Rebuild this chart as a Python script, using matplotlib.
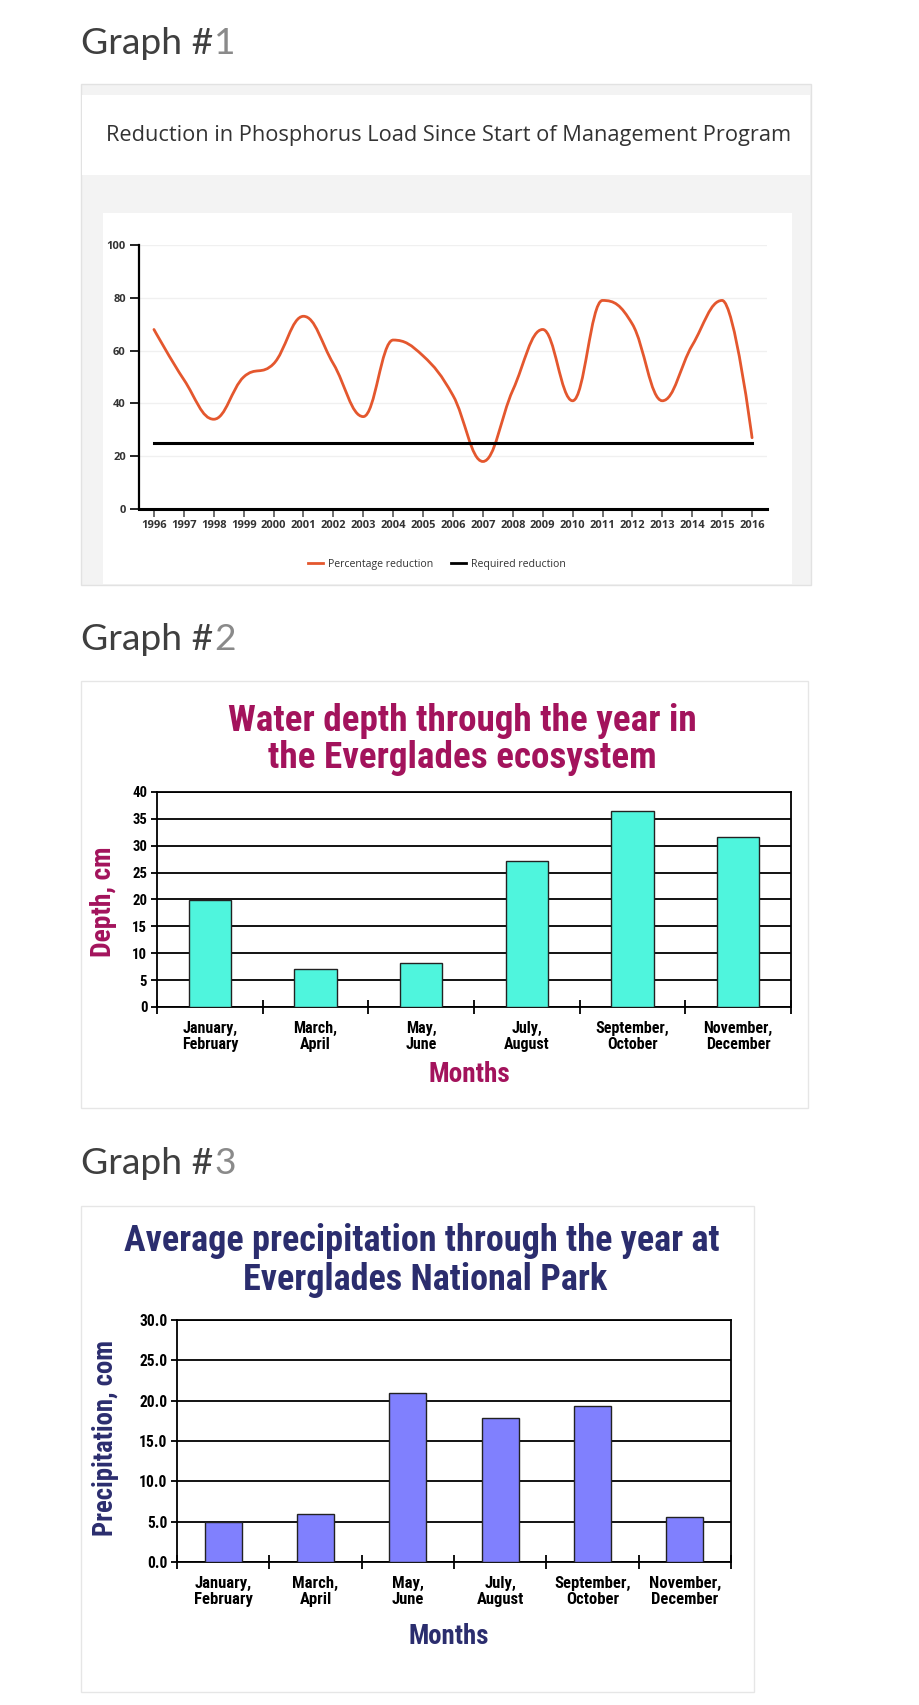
import matplotlib
matplotlib.use('Agg')
import matplotlib.pyplot as plt
from matplotlib import font_manager
from matplotlib.patches import Rectangle, PathPatch
from matplotlib.path import Path
from matplotlib.lines import Line2D
import numpy as np

# ---- data ----
years = list(range(1996, 2017))
pct_reduction = [68, 49, 34, 50, 55, 73, 55, 35, 64, 58, 43, 18, 45, 68, 41, 79, 70, 41, 62, 79, 27]
required_reduction = 25

month_labels = ['January,\nFebruary', 'March,\nApril', 'May,\nJune',
                'July,\nAugust', 'September,\nOctober', 'November,\nDecember']
depth_cm = [19.9, 7.0, 8.1, 27.2, 36.4, 31.7]
precip_cm = [5.0, 5.9, 21.0, 17.8, 19.3, 5.6]

ORANGE = '#e4572e'
MAROON = '#a3135c'
NAVY = '#2b2d6e'
AQUA = '#4ff5dd'
PERI = '#8080fe'

names = {f.name for f in font_manager.fontManager.ttflist}
NARROW = 'DejaVu Sans'
for cand in ['Liberation Sans Narrow', 'Roboto Condensed', 'Open Sans Condensed', 'DejaVu Sans Condensed']:
    if cand in names:
        NARROW = cand
        break
HEAD = 'Lato' if 'Lato' in names else 'DejaVu Sans'
OPEN = 'Open Sans' if 'Open Sans' in names else 'DejaVu Sans'

W, H = 920, 1705
fig = plt.figure(figsize=(W / 100, H / 100), dpi=100)
fig.patch.set_facecolor('white')
renderer = fig.canvas.get_renderer()


def frect(x0, y0, x1, y1):
    return [x0 / W, 1 - y1 / H, (x1 - x0) / W, (y1 - y0) / H]


def box(x0, y0, x1, y1, face, edge='none'):
    fig.add_artist(Rectangle((x0 / W, 1 - y1 / H), (x1 - x0) / W, (y1 - y0) / H,
                             transform=fig.transFigure, facecolor=face,
                             edgecolor=edge, lw=1, zorder=-5))


def fit_size(s, width=None, height=None, **kw):
    t = fig.text(0, 0, s, fontsize=20, **kw)
    bb = t.get_window_extent(renderer)
    t.remove()
    return 20 * (width / bb.width if width else height / bb.height)


def put(x, y, s, width=None, height=None, size=None, **kw):
    if size is None:
        size = fit_size(s, width, height, **kw)
    return fig.text(x / W, 1 - y / H, s, fontsize=size, **kw)


def header(y, num):
    fs = fit_size('Graph #' + num, width=154, family=HEAD)
    t = put(81, y, 'Graph #', size=fs, family=HEAD, color='#3f3f3f', va='center')
    w = t.get_window_extent(renderer).width
    put(81 + w + 1, y, num, size=fs, family=HEAD, color='#8a8a8a', va='center')


def spline_path(xs, ys, smoothing=1.5):
    n = len(xs)
    left = [None] * n
    right = [None] * n
    for i in range(n):
        x, y = xs[i], ys[i]
        if i == 0 or i == n - 1:
            left[i] = right[i] = (x, y)
            continue
        px, py = xs[i - 1], ys[i - 1]
        nx, ny = xs[i + 1], ys[i + 1]
        d = smoothing + 1
        lx, ly = (smoothing * x + px) / d, (smoothing * y + py) / d
        rx, ry = (smoothing * x + nx) / d, (smoothing * y + ny) / d
        corr = ((ry - ly) * (rx - x)) / (rx - lx) + y - ry
        ly += corr
        ry += corr
        if ly > py and ly > y:
            ly = max(py, y); ry = 2 * y - ly
        elif ly < py and ly < y:
            ly = min(py, y); ry = 2 * y - ly
        if ry > ny and ry > y:
            ry = max(ny, y); ly = 2 * y - ry
        elif ry < ny and ry < y:
            ry = min(ny, y); ly = 2 * y - ry
        left[i] = (lx, ly)
        right[i] = (rx, ry)
    verts = [(xs[0], ys[0])]
    codes = [Path.MOVETO]
    for i in range(1, n):
        verts += [right[i - 1], left[i], (xs[i], ys[i])]
        codes += [Path.CURVE4] * 3
    return Path(verts, codes)


# ================= Graph 1 =================
header(43, '1')
box(81, 84, 811, 585, '#f3f3f3', '#e2e2e2')
box(82, 95, 810, 175, 'white')
box(103, 213, 792, 584, 'white')
put(449, 136, 'Reduction in Phosphorus Load Since Start of Management Program',
    width=681, family=OPEN, color='#333333', ha='center', va='center')

ax1 = fig.add_axes(frect(139, 245, 767, 509))
ax1.set_facecolor('none')
ax1.add_patch(PathPatch(spline_path(years, pct_reduction), fill=False,
                        edgecolor=ORANGE, lw=2, capstyle='round', zorder=3))
ax1.plot([years[0], years[-1]], [required_reduction, required_reduction],
         color='black', lw=2.2, zorder=3)
ax1.set_xlim(years[0] - 0.5, years[-1] + 0.5)
ax1.set_ylim(0, 100)
ax1.set_yticks([0, 20, 40, 60, 80, 100])
ax1.set_xticks(years)
ax1.grid(axis='y', color='#f0f0f0', lw=1)
ax1.set_axisbelow(True)
for s in ['top', 'right']:
    ax1.spines[s].set_visible(False)
ax1.spines['left'].set_linewidth(1.6)
ax1.spines['bottom'].set_linewidth(2.2)
fs1 = fit_size('1996', width=25.5, family=OPEN, fontweight='bold')
ax1.tick_params(axis='y', length=6.5, width=1.2, pad=3, labelsize=fs1, labelcolor='#333333')
ax1.tick_params(axis='x', length=6, width=1.2, color='#555555', pad=2,
                labelsize=fs1, labelcolor='#333333')
for lab in ax1.get_xticklabels() + ax1.get_yticklabels():
    lab.set_family(OPEN)
    lab.set_fontweight('bold')

handles = [Line2D([], [], color=ORANGE, lw=2), Line2D([], [], color='black', lw=2)]
ax1.legend(handles, ['Percentage reduction', 'Required reduction'], ncol=2,
           loc='center', bbox_to_anchor=(437 / W, 1 - 564 / H),
           bbox_transform=fig.transFigure, frameon=False,
           prop={'family': OPEN, 'size': 7.6}, handlelength=1.4,
           handletextpad=0.5, columnspacing=1.7, labelcolor='#333333')


# ================= bar panels =================
def bar_panel(ax, values, ymax, step, color, fmt, xsize, ysize):
    x = np.arange(len(values))
    ax.bar(x, values, width=0.4, color=color, edgecolor='#222222', linewidth=1, zorder=3)
    ax.set_xlim(-0.5, len(values) - 0.5)
    ax.set_ylim(0, ymax)
    ax.set_yticks(np.arange(0, ymax + step / 2, step))
    ax.set_yticklabels([fmt.format(v) for v in np.arange(0, ymax + step / 2, step)])
    ax.grid(axis='y', color='black', lw=1.3)
    ax.set_axisbelow(True)
    ax.set_xticks(x)
    ax.set_xticklabels(month_labels)
    ax.set_xticks(np.arange(-0.5, len(values)), minor=True)
    ax.tick_params(axis='x', which='major', length=0, pad=10, labelsize=xsize)
    ax.tick_params(axis='x', which='minor', direction='inout', length=10, width=1.3)
    ax.tick_params(axis='y', direction='out', length=4, width=1.3, pad=3, labelsize=ysize)
    for s in ax.spines.values():
        s.set_linewidth(1.3)
        s.set_color('black')
    for lab in ax.get_xticklabels() + ax.get_yticklabels():
        lab.set_family(NARROW)
        lab.set_fontweight('bold')
        lab.set_linespacing(1.1)


# ================= Graph 2 =================
header(639, '2')
box(81, 681, 808, 1108, 'white', '#e6e6e6')
tfs2 = fit_size('Water depth through the year in', width=467, family=NARROW, fontweight='bold')
put(462, 721, 'Water depth through the year in', size=tfs2, family=NARROW,
    fontweight='bold', color=MAROON, ha='center', va='center')
put(462, 758, 'the Everglades ecosystem', size=tfs2, family=NARROW,
    fontweight='bold', color=MAROON, ha='center', va='center')

ax2 = fig.add_axes(frect(157, 792, 791, 1007))
bar_panel(ax2, depth_cm, 40, 5, AQUA, '{:.0f}',
          fit_size('September,', width=73, family=NARROW, fontweight='bold'),
          fit_size('35', width=15, family=NARROW, fontweight='bold'))
put(104, 902, 'Depth, cm', height=110, family=NARROW, fontweight='bold',
    color=MAROON, rotation=90, ha='center', va='center')
put(469, 1074, 'Months', width=82, family=NARROW, fontweight='bold',
    color=MAROON, ha='center', va='center')

# ================= Graph 3 =================
header(1164, '3')
box(81, 1206, 754, 1692, 'white', '#e6e6e6')
tfs3 = fit_size('Average precipitation through the year at', width=592, family=NARROW, fontweight='bold')
put(422, 1241, 'Average precipitation through the year at', size=tfs3, family=NARROW,
    fontweight='bold', color=NAVY, ha='center', va='center')
put(425, 1280, 'Everglades National Park', size=tfs3, family=NARROW,
    fontweight='bold', color=NAVY, ha='center', va='center')

ax3 = fig.add_axes(frect(177, 1320, 731, 1562))
bar_panel(ax3, precip_cm, 30, 5, PERI, '{:.1f}',
          fit_size('September,', width=76, family=NARROW, fontweight='bold'),
          fit_size('30.0', width=28, family=NARROW, fontweight='bold'))
put(106, 1438, 'Precipitation, com', height=196, family=NARROW, fontweight='bold',
    color=NAVY, rotation=90, ha='center', va='center')
put(449, 1636, 'Months', width=81, family=NARROW, fontweight='bold',
    color=NAVY, ha='center', va='center')

fig.savefig('out.png', dpi=100)
